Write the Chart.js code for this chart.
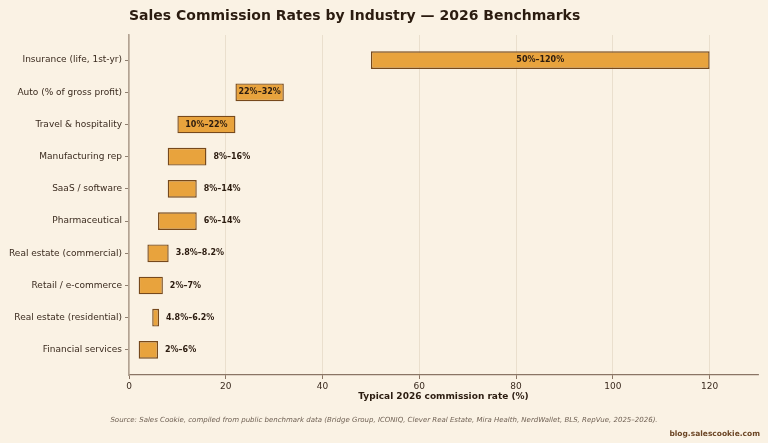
<!DOCTYPE html>
<html>
<head>
<meta charset="utf-8">
<script src="https://cdn.jsdelivr.net/npm/chart.js@4/dist/chart.umd.min.js"></script>
<style>
  html, body { margin: 0; padding: 0; background: #FAF2E4; }
  #wrap { width: 768px; height: 443px; position: relative; }
  canvas { display: block; }
</style>
</head>
<body>
<div id="wrap"><canvas id="c" width="768" height="443"></canvas></div>
<script>
const categories = [
  "Insurance (life, 1st-yr)",
  "Auto (% of gross profit)",
  "Travel & hospitality",
  "Manufacturing rep",
  "SaaS / software",
  "Pharmaceutical",
  "Real estate (commercial)",
  "Retail / e-commerce",
  "Real estate (residential)",
  "Financial services"
];
const lowRates  = [50, 22, 10, 8, 8, 6, 3.8, 2, 4.8, 2];
const highRates = [120, 32, 22, 16, 14, 14, 8.2, 7, 6.2, 6];
const rangeLabels = ["50%–120%", "22%–32%", "10%–22%", "8%–16%", "8%–14%", "6%–14%", "3.8%–8.2%", "2%–7%", "4.8%–6.2%", "2%–6%"];
const xTicks = [0, 20, 40, 60, 80, 100, 120];

const TITLE = "Sales Commission Rates by Industry — 2026 Benchmarks";
const XTITLE = "Typical 2026 commission rate (%)";
const SOURCE = "Source: Sales Cookie, compiled from public benchmark data (Bridge Group, ICONIQ, Clever Real Estate, Mira Health, NerdWallet, BLS, RepVue, 2025–2026).";
const WATERMARK = "blog.salescookie.com";

const data = categories.map((c, i) => ({ x: [lowRates[i], highRates[i]], y: i }));

const AXIS = '#8A7565';
const AXIS_LEFT = '#B3A393';
const FONT = "'DejaVu Sans', sans-serif";

const textPlugin = {
  id: 'texts',
  beforeDraw(chart) {
    const ctx = chart.ctx;
    ctx.save();
    ctx.fillStyle = '#FAF2E4';
    ctx.fillRect(0, 0, chart.width, chart.height);
    ctx.restore();
  },
  afterDraw(chart) {
    const ctx = chart.ctx;
    const area = chart.chartArea;
    const xs = chart.scales.x, ys = chart.scales.y;
    ctx.save();
    ctx.font = "bold 8px " + FONT;
    ctx.textBaseline = 'middle';
    ctx.fillStyle = '#2B1B0F';
    for (let i = 0; i < categories.length; i++) {
      const lo = xs.getPixelForValue(lowRates[i]);
      const hi = xs.getPixelForValue(highRates[i]);
      const y = ys.getPixelForValue(i);
      if (highRates[i] - lowRates[i] >= 10) {
        ctx.textAlign = 'center';
        ctx.fillText(rangeLabels[i], (lo + hi) / 2, y);
      } else {
        ctx.textAlign = 'left';
        ctx.fillText(rangeLabels[i], hi + 7, y);
      }
    }
    ctx.fillStyle = '#2B1C10';
    ctx.font = "bold 14px " + FONT;
    ctx.textAlign = 'left';
    ctx.textBaseline = 'middle';
    ctx.fillText(TITLE, area.left, 16);
    ctx.font = "bold 9px " + FONT;
    ctx.textAlign = 'center';
    ctx.fillText(XTITLE, (area.left + area.right) / 2, 397);
    ctx.font = "italic 7px " + FONT;
    ctx.fillStyle = '#6E5F52';
    ctx.fillText(SOURCE, 384, 420);
    ctx.font = "bold 7.5px " + FONT;
    ctx.textAlign = 'right';
    ctx.fillStyle = '#6B4524';
    ctx.fillText(WATERMARK, 760, 434);
    ctx.restore();
  }
};

new Chart(document.getElementById('c'), {
  type: 'bar',
  data: {
    datasets: [{
      data: data,
      backgroundColor: '#E8A33D',
      borderColor: '#76491C',
      borderWidth: 1.4,
      borderSkipped: false,
      categoryPercentage: 1,
      barPercentage: 0.55
    }]
  },
  options: {
    responsive: false,
    animation: false,
    indexAxis: 'y',
    layout: { padding: { top: 35, right: 10, left: 0, bottom: 0 } },
    plugins: { legend: { display: false }, tooltip: { enabled: false }, title: { display: false } },
    scales: {
      x: {
        type: 'linear',
        min: 0, max: 130,
        afterBuildTicks(scale) { scale.ticks = xTicks.map(v => ({ value: v })); },
        afterFit(scale) { scale.height = 68; },
        border: { display: true, color: AXIS, width: 1.2 },
        grid: {
          color: '#E6D9C6', lineWidth: 0.8, borderDash: [3, 3],
          tickColor: AXIS, tickLength: 4, tickBorderDash: [], tickWidth: 1
        },
        ticks: { color: '#3A2A1E', font: { family: FONT, size: 9 }, padding: 2, maxRotation: 0 }
      },
      y: {
        type: 'linear',
        reverse: true,
        offset: false,
        min: -0.78, max: 9.78,
        afterBuildTicks(scale) { scale.ticks = categories.map((c, i) => ({ value: i })); },
        afterFit(scale) { scale.width = 129; },
        border: { display: true, color: AXIS_LEFT, width: 1.6 },
        grid: { drawOnChartArea: false, offset: false, tickColor: '#8F7F70', tickLength: 4 },
        ticks: {
          autoSkip: false,
          color: '#3A2A1E',
          font: { family: FONT, size: 9 },
          padding: 3,
          callback: (v) => categories[v]
        }
      }
    }
  },
  plugins: [textPlugin]
});
</script>
</body>
</html>
